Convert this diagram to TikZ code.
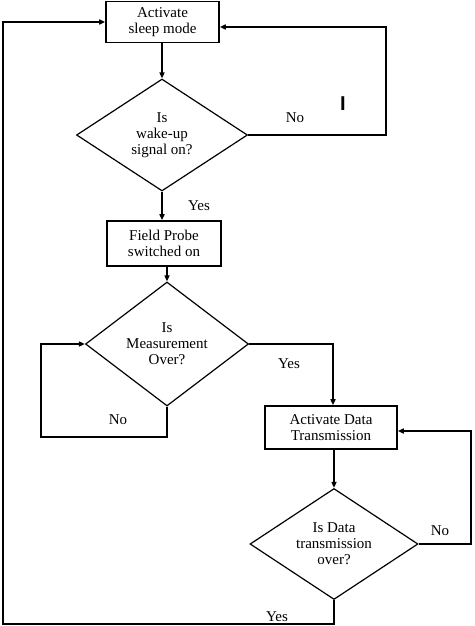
\documentclass[tikz,border=0pt]{standalone}
\usepackage{fontspec}
\setmainfont{Liberation Serif}
\newfontfamily\marksans{Liberation Sans}
\usetikzlibrary{shapes.geometric,arrows.meta}
\begin{document}
\begin{tikzpicture}[x=1pt,y=-1pt,
  every node/.style={font=\fontsize{15}{16}\selectfont},
  procbox/.style={draw,line width=1.6pt,inner sep=0pt,align=center},
  decide/.style={draw,diamond,line width=1.2pt,inner sep=0pt,aspect=1.5,align=center},
  conn/.style={line width=1.5pt},
  arr/.style={conn,-{Triangle[length=6pt,width=5pt]}},
  lbl/.style={inner sep=0pt}
]
\useasboundingbox (0,0) rectangle (474,626);
% boxes
\node[procbox,minimum width=113pt,minimum height=41pt] (b1) at (162.5,22) {Activate\\sleep mode};
\node[procbox,minimum width=114pt,minimum height=45pt] (b2) at (164,243.5) {Field Probe\\switched on};
\node[procbox,minimum width=132pt,minimum height=43pt] (b3) at (331,427.5) {Activate Data\\Transmission};
% decisions
\node[decide,minimum width=171pt,minimum height=112pt] (d1) at (162,135) {Is\\wake-up\\signal on?};
\node[decide,minimum width=163pt,minimum height=124pt] (d2) at (167,344) {Is\\Measurement\\Over?};
\node[decide,minimum width=168pt,minimum height=111pt] (d3) at (334,544) {Is Data\\transmission\\over?};
% helper coordinates
\coordinate (r1) at (386,27);
\coordinate (r3) at (471,431);
\coordinate (n2) at (41,437);
\coordinate (bl) at (3,624);
\coordinate (y2) at (333,344);
% main flow
\draw[arr] (b1.south -| d1.north) -- (d1.north);
\draw[arr] (d1.south) -- (d1.south |- b2.north);
\draw[arr] (d2.north |- b2.south) -- (d2.north);
\draw[arr] (d2.east) -- (y2) -- (y2 |- b3.north);
\draw[arr] (d3.north |- b3.south) -- (d3.north);
% loops
\draw[arr] (d1.east) -- (r1 |- d1.east) -- (r1) -- (b1.east |- r1);
\draw[arr] (d2.south) -- (d2.south |- n2) -- (n2) -- (n2 |- d2.west) -- (d2.west);
\draw[arr] (d3.east) -- (r3 |- d3.east) -- (r3) -- (b3.east |- r3);
\draw[conn,line width=2.2pt,-{Triangle[length=6pt,width=5pt]}] (d3.south) -- (d3.south |- bl) -- (bl) -- (bl |- b1.west) -- (b1.west);
% labels
\node[lbl] (lno1) at (295,118) {No};
\node[lbl] (lyes1) at (199,206) {Yes};
\node[lbl] (lyes2) at (289,364) {Yes};
\node[lbl] (lno2) at (118,420) {No};
\node[lbl] (lno3) at (440,531) {No};
\node[lbl] (lyes3) at (277,617) {Yes};
\node[lbl] (mark) at (343,104) {\marksans\bfseries\fontsize{20}{20}\selectfont I};
\end{tikzpicture}
\end{document}
